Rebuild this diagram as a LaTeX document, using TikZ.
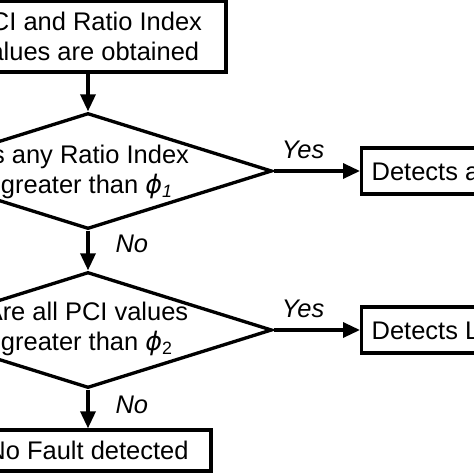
\documentclass[tikz,border=0pt]{standalone}
\usepackage{fontspec}
\setmainfont{Liberation Sans}
\newfontfamily\phifont{DejaVu Sans}
\usetikzlibrary{shapes.geometric,arrows.meta}

\newcommand{\phisub}[1]{{\phifont\itshape ϕ}\textsubscript{#1}}

\tikzset{
  procbox/.style={draw, line width=1.9pt, align=center, inner sep=0pt},
  decision/.style={draw, diamond, line width=1.9pt, inner sep=0pt,
    minimum width=7.36cm, minimum height=2.32cm},
  flow/.style={line width=1.9pt, -{Triangle[length=0.34cm,width=0.3cm]}},
  answer/.style={font=\fontsize{14.5}{17.5}\selectfont\itshape}
}

\begin{document}
\begin{tikzpicture}[x=0.02cm, y=-0.02cm, font=\fontsize{14.5}{17.5}\selectfont]

  \path[use as bounding box, clip] (0,0) rectangle (474,474);

  \node[procbox, minimum width=5.52cm, minimum height=1.42cm] (obtain) at (88,36.5)
    {PCI and Ratio Index\\values are obtained};

  \node[decision] (ratio) at (88,171) {};
  \node[align=center] (ratiotxt) at (87,172) {Is any Ratio Index\\greater than \phisub{\itshape 1}};

  \node[decision] (pci) at (88,330) {};
  \node[align=center] (pcitxt) at (87,329) {Are all PCI values\\greater than \phisub{2}};

  \node[procbox, anchor=west, inner xsep=0.2cm, minimum height=0.92cm] (faulta) at (360,171)
    {Detects a Fault};
  \node[procbox, anchor=west, inner xsep=0.2cm, minimum height=0.92cm] (faultl) at (360,330)
    {Detects Line Fault};

  \node[procbox, minimum width=4.92cm, minimum height=0.82cm] (nofault) at (88,450.5)
    {No Fault detected};

  \draw[flow] (obtain) -- (ratio.north);
  \draw[flow] (ratio.east) -- node[answer, above=0.1cm, pos=0.34] (yes1) {Yes} (faulta.west);
  \draw[flow] (ratio.south) -- node[answer, right=0.4cm, pos=0.34] (no1) {No} (pci.north);
  \draw[flow] (pci.east) -- node[answer, above=0.1cm, pos=0.34] (yes2) {Yes} (faultl.west);
  \draw[flow] (pci.south) -- node[answer, right=0.4cm, pos=0.4] (no2) {No} (nofault.north);

\end{tikzpicture}
\end{document}
